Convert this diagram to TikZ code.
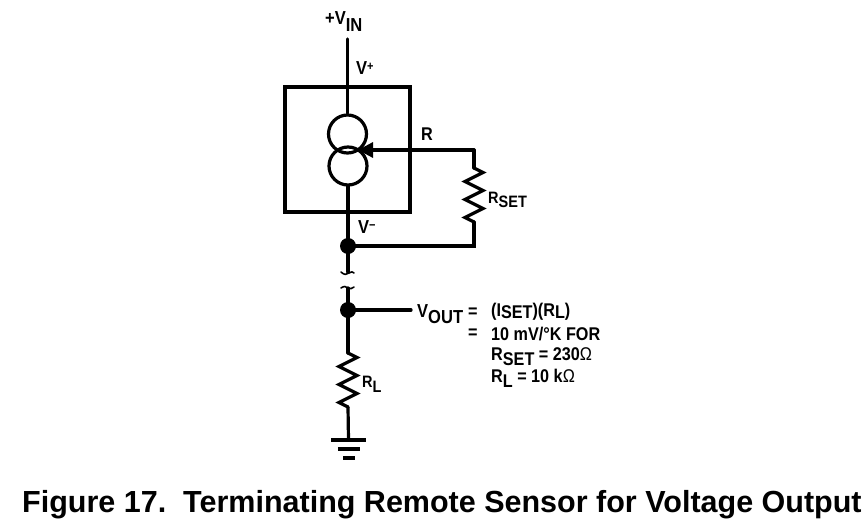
\documentclass[tikz,border=0pt]{standalone}
\usepackage{fontspec}
\setmainfont{Liberation Sans}
\newfontfamily\lbl[FakeStretch=0.88]{Liberation Sans}
\usetikzlibrary{arrows.meta,decorations.pathmorphing}
\newcommand{\lo}[2][4pt]{\raisebox{-#1}{#2}}
\newcommand{\hi}[1]{\raisebox{3.5pt}{\fontsize{12.5}{13}\selectfont #1}}
\newcommand{\Om}{{\fontseries{m}\selectfont Ω}}
\tikzset{
  wire/.style={line width=3.2pt,line cap=round,line join=miter},
  res/.style={wire,decorate,decoration={zigzag,segment length=18pt,amplitude=9pt}},
  lab/.style={inner sep=0pt,font=\lbl\bfseries\fontsize{18.4}{20}\selectfont,anchor=base west},
  vlab/.style={lab,font=\lbl\bfseries\fontsize{18.8}{20}\selectfont},
  slab/.style={lab,font=\lbl\bfseries\fontsize{16.5}{18}\selectfont},
  dotn/.style={circle,fill=black,draw=none,minimum size=16pt,inner sep=0pt},
  src/.style={circle,draw=black,line width=3.2pt,minimum size=38pt,inner sep=0pt},
  tl/.style={line width=1.6pt,line cap=round}
}
\begin{document}
\begin{tikzpicture}[x=1pt,y=-1pt]
\useasboundingbox (0,0) rectangle (864,525);
\coordinate (vin) at (347.5,39);
\node[src] (up) at (347.5,134) {};
\node[src] (dn) at (348,166) {};
\node[draw=black,line width=3.4pt,minimum width=125pt,minimum height=125pt,inner sep=0pt] (box) at (347.5,149.5) {};
\node[dotn] (j1) at (348,246) {};
\node[dotn] (j2) at (348,310) {};
\coordinate (tip) at (358,150);
\coordinate (rc) at (474,150);
\coordinate (rt) at (474,168);
\coordinate (rb) at (474,222);
\coordinate (rj) at (474,246);
\coordinate (br1) at (348,272);
\coordinate (br2) at (348,288);
\coordinate (vo) at (411,310);
\coordinate (lt) at (348,353);
\coordinate (lb) at (348,407);
\node[inner sep=0pt,minimum width=34pt,minimum height=0pt] (g1) at (348.5,440) {};
\node[inner sep=0pt,minimum width=22pt,minimum height=0pt] (g2) at (349,449) {};
\node[inner sep=0pt,minimum width=11pt,minimum height=0pt] (g3) at (349,458) {};

\draw[wire] (vin) -- (up.north);
\draw[wire] (dn.south) -- (j1.center) -- (br1);
\draw[wire] (br2) -- (j2.center) -- (lt);
\draw[res] (lt) -- (lb);
\draw[wire] (lb) -- (g1.center);
\draw[line width=3.4pt] (g1.west) -- (g1.east);
\draw[line width=3.4pt] (g2.west) -- (g2.east);
\draw[line width=3.4pt] (g3.west) -- (g3.east);
\draw[wire] (j2.center) -- (vo);
\draw[wire,-{Triangle[length=15pt,width=15pt]}] (rc) -- (tip);
\draw[wire] (rc) -- (rt);
\draw[res] (rt) -- (rb);
\draw[wire] (rb) -- (rj) -- (j1.center);
\draw[tl] (341,272) .. controls (344,275) and (347,275) .. (349,273) .. controls (351,271) and (353,272) .. (354,273);
\draw[tl] (341,288) .. controls (344,286) and (346,286) .. (348,288) .. controls (350,289) and (352,289) .. (354,287);

\node[vlab] (tvin) at (325,24) {+V\lo[7pt]{IN}};
\node[vlab] (tvp) at (356,74) {V\hi{+}};
\node[vlab] (tvm) at (358,233) {V\hi{−}};
\node[lab] (tr) at (421,140) {R};
\node[slab] (trs) at (488,203) {R\lo{SET}};
\node[slab] (trl) at (362,387) {R\lo[5pt]{L}};
\node[vlab] (tvo) at (417,317) {V\lo[6pt]{OUT}};
\node[lab] (e1) at (468,317) {=};
\node[lab] (e2) at (468,338) {=};
\node[lab] (l1) at (491,316) {(I\lo[2.5pt]{SET})(R\lo[2.5pt]{L})};
\node[lab] (l2) at (491,340) {10 mV/°K FOR};
\node[lab] (l3) at (491,360) {R\lo[5pt]{SET} = 230\Om};
\node[lab] (l4) at (491,382) {R\lo[5pt]{L} = 10 k\Om};
\node[inner sep=0pt,anchor=base west,font=\bfseries\fontsize{30.5}{34}\selectfont] (cap) at (22,512) {Figure 17.\ \ Terminating Remote Sensor for Voltage Output};
\end{tikzpicture}
\end{document}
